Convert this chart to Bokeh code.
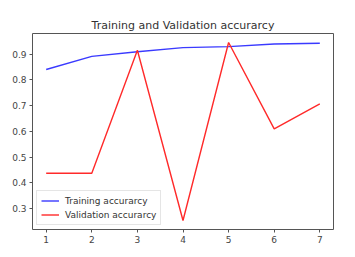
from bokeh.plotting import figure
from bokeh.models import Range1d, FixedTicker
from bokeh.embed import file_html
from bokeh.resources import INLINE

epochs = [1, 2, 3, 4, 5, 6, 7]
train_acc = [0.841, 0.892, 0.910, 0.926, 0.930, 0.940, 0.943]
val_acc = [0.437, 0.437, 0.916, 0.253, 0.946, 0.610, 0.707]
y_ticks = [0.3, 0.4, 0.5, 0.6, 0.7, 0.8, 0.9]

p = figure(width=355, height=257, output_backend="svg", toolbar_location=None,
           title="Training and Validation accurarcy",
           x_range=Range1d(0.7, 7.3), y_range=Range1d(0.218, 0.981),
           min_border_left=32, min_border_right=22, min_border_top=33, min_border_bottom=28)

p.line(epochs, train_acc, color="#3a3aff", line_width=1.4, legend_label="Training accurarcy")
p.line(epochs, val_acc, color="#ff2a2a", line_width=1.4, legend_label="Validation accurarcy")

p.title.align = "center"
p.title.text_font = "DejaVu Sans"
p.title.text_font_size = "11px"
p.title.text_font_style = "normal"
p.title.text_color = "#333333"
p.title.standoff = 3

p.xgrid.visible = False
p.ygrid.visible = False
p.outline_line_color = "#555555"
p.outline_line_width = 1

for ax in (p.xaxis, p.yaxis):
    ax.axis_line_color = None
    ax.major_tick_in = 0
    ax.major_tick_out = 3
    ax.minor_tick_line_color = None
    ax.major_tick_line_color = "#555555"
    ax.major_label_text_font = "DejaVu Sans"
    ax.major_label_text_font_size = "9px"
    ax.major_label_text_color = "#444444"
    ax.major_label_standoff = 3

p.xaxis.ticker = FixedTicker(ticks=epochs)
p.yaxis.ticker = FixedTicker(ticks=y_ticks)

p.legend.location = "bottom_left"
p.legend.label_text_font = "DejaVu Sans"
p.legend.label_text_font_size = "9px"
p.legend.label_text_color = "#333333"
p.legend.border_line_color = "#cccccc"
p.legend.background_fill_alpha = 0.8
p.legend.glyph_width = 18
p.legend.glyph_height = 11
p.legend.label_height = 11
p.legend.spacing = 3
p.legend.padding = 4
p.legend.margin = 4
p.legend.label_standoff = 6

open("out.html", "w").write(file_html(p, INLINE))
